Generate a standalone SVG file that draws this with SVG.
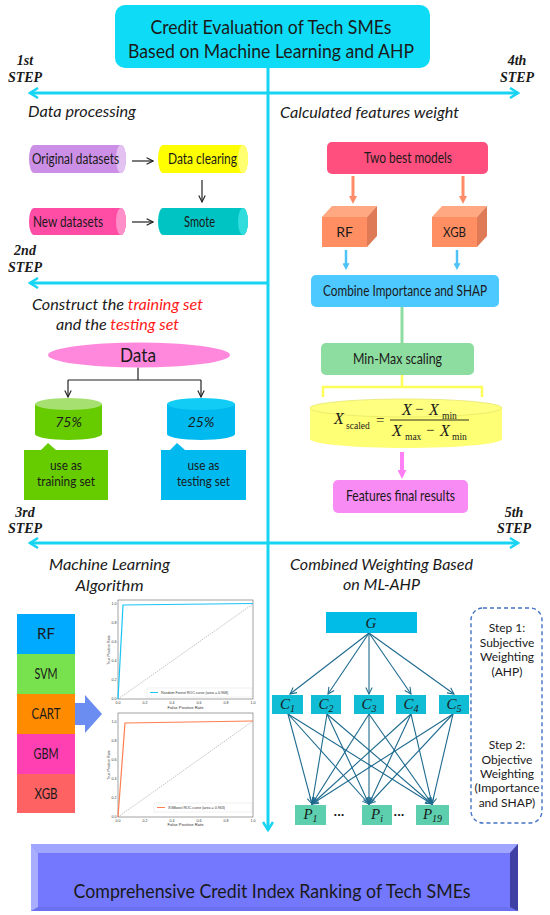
<svg xmlns="http://www.w3.org/2000/svg" width="550" height="915" viewBox="0 0 550 915">
<defs>
<style>
.t{font-family:Lato,"Open Sans","Liberation Sans",sans-serif;fill:#1a1a1a}
.it{font-style:italic}
.step{font-family:"Liberation Serif",serif;font-weight:bold;font-style:italic;font-size:14px;fill:#1a1a1a;text-anchor:middle}
.m{font-family:"Liberation Serif",serif;font-style:italic;fill:#1a1a1a}
.mu{font-family:"Liberation Serif",serif;fill:#1a1a1a}
.c{text-anchor:middle}
.cyan{stroke:#17D4F2;stroke-width:3;fill:none}
.blk{stroke:#222;stroke-width:1.2;fill:none}
.net{stroke:#1D6A8E;stroke-width:1.1;fill:none}
.roc{font-family:"Liberation Sans",sans-serif;font-size:3.6px;fill:#333}
</style>
<marker id="mc" viewBox="0 0 12 12" refX="10" refY="6" markerWidth="12" markerHeight="12" markerUnits="userSpaceOnUse" orient="auto-start-reverse"><path d="M2,1 L10,6 L2,11" fill="none" stroke="#17D4F2" stroke-width="2.5"/></marker>
<marker id="mb" viewBox="0 0 10 10" refX="9" refY="5" markerWidth="8" markerHeight="8" markerUnits="userSpaceOnUse" orient="auto"><path d="M1,1 L9,5 L1,9" fill="none" stroke="#222" stroke-width="1.4"/></marker>
<marker id="mo" viewBox="0 0 8 8" refX="1" refY="4" markerWidth="8" markerHeight="8" markerUnits="userSpaceOnUse" orient="auto"><path d="M0,0 L8,4 L0,8 Z" fill="#FF8C69"/></marker>
<marker id="ml" viewBox="0 0 8 8" refX="1" refY="4" markerWidth="7" markerHeight="7" markerUnits="userSpaceOnUse" orient="auto"><path d="M0,0 L8,4 L0,8 Z" fill="#4FC3F7"/></marker>
<marker id="mp" viewBox="0 0 8 8" refX="1" refY="4" markerWidth="9" markerHeight="9" markerUnits="userSpaceOnUse" orient="auto"><path d="M0,0 L8,4 L0,8 Z" fill="#FF80F5"/></marker>
<marker id="mn" viewBox="0 0 10 10" refX="9" refY="5" markerWidth="8" markerHeight="8" markerUnits="userSpaceOnUse" orient="auto"><path d="M1,1 L9,5 L1,9" fill="none" stroke="#1D6A8E" stroke-width="1.3"/></marker>
</defs>
<rect width="550" height="915" fill="#fff"/>

<g id="connectors">
<line class="cyan" x1="268" y1="68" x2="268" y2="830" marker-end="url(#mc)"/>
<line class="cyan" x1="30" y1="93" x2="518" y2="93" marker-start="url(#mc)" marker-end="url(#mc)"/>
<line class="cyan" x1="268" y1="283" x2="30" y2="283" marker-end="url(#mc)"/>
<line class="cyan" x1="30" y1="543" x2="518" y2="543" marker-start="url(#mc)" marker-end="url(#mc)"/>
<line class="blk" x1="132" y1="161" x2="153" y2="161" marker-end="url(#mb)"/>
<line class="blk" x1="132" y1="222" x2="153" y2="222" marker-end="url(#mb)"/>
<line class="blk" x1="202" y1="180" x2="202" y2="202" marker-end="url(#mb)"/>
<path class="blk" d="M138,367.5 V380 M68,380 H201"/>
<line class="blk" x1="68" y1="380" x2="68" y2="397" marker-end="url(#mb)"/>
<line class="blk" x1="201" y1="380" x2="201" y2="397" marker-end="url(#mb)"/>
<line x1="353" y1="176" x2="353" y2="197" stroke="#FF8C69" stroke-width="3" marker-end="url(#mo)"/>
<line x1="463" y1="176" x2="463" y2="197" stroke="#FF8C69" stroke-width="3" marker-end="url(#mo)"/>
<line x1="346" y1="250" x2="346" y2="264" stroke="#4FC3F7" stroke-width="2.5" marker-end="url(#ml)"/>
<line x1="457" y1="250" x2="457" y2="264" stroke="#4FC3F7" stroke-width="2.5" marker-end="url(#ml)"/>
<line x1="402" y1="307" x2="402" y2="343" stroke="#8EDDA0" stroke-width="3"/>
<path d="M402,375 V387 M323,397 V387 H482 V397" stroke="#FFFF5A" stroke-width="2.5" fill="none"/>
<line x1="402" y1="452" x2="402" y2="471" stroke="#FF80F5" stroke-width="4" marker-end="url(#mp)"/>
<g class="net">
<line x1="369" y1="633" x2="290" y2="694" marker-end="url(#mn)"/>
<line x1="369" y1="633" x2="328" y2="694" marker-end="url(#mn)"/>
<line x1="369" y1="633" x2="369" y2="694" marker-end="url(#mn)"/>
<line x1="369" y1="633" x2="411" y2="694" marker-end="url(#mn)"/>
<line x1="369" y1="633" x2="454" y2="694" marker-end="url(#mn)"/>
<line x1="288" y1="714" x2="312" y2="804" marker-end="url(#mn)"/>
<line x1="288" y1="714" x2="369" y2="804" marker-end="url(#mn)"/>
<line x1="288" y1="714" x2="432" y2="804" marker-end="url(#mn)"/>
<line x1="327" y1="714" x2="312" y2="804" marker-end="url(#mn)"/>
<line x1="327" y1="714" x2="369" y2="804" marker-end="url(#mn)"/>
<line x1="327" y1="714" x2="432" y2="804" marker-end="url(#mn)"/>
<line x1="369" y1="714" x2="312" y2="804" marker-end="url(#mn)"/>
<line x1="369" y1="714" x2="369" y2="804" marker-end="url(#mn)"/>
<line x1="369" y1="714" x2="432" y2="804" marker-end="url(#mn)"/>
<line x1="411" y1="714" x2="312" y2="804" marker-end="url(#mn)"/>
<line x1="411" y1="714" x2="369" y2="804" marker-end="url(#mn)"/>
<line x1="411" y1="714" x2="432" y2="804" marker-end="url(#mn)"/>
<line x1="453" y1="714" x2="312" y2="804" marker-end="url(#mn)"/>
<line x1="453" y1="714" x2="369" y2="804" marker-end="url(#mn)"/>
<line x1="453" y1="714" x2="432" y2="804" marker-end="url(#mn)"/>
</g>
</g>

<g id="title">
<rect x="115" y="5" width="315" height="63" rx="10" fill="#0EDCF6"/>
<text class="t c" x="271" y="34" font-size="19" textLength="241" lengthAdjust="spacingAndGlyphs">Credit Evaluation of Tech SMEs</text>
<text class="t c" x="271" y="58" font-size="19" textLength="286" lengthAdjust="spacingAndGlyphs">Based on Machine Learning and AHP</text>
</g>

<g id="steps">
<text class="step" x="25" y="65">1st</text><text class="step" x="25" y="82">STEP</text>
<text class="step" x="517" y="65">4th</text><text class="step" x="517" y="82">STEP</text>
<text class="step" x="25" y="255">2nd</text><text class="step" x="25" y="272">STEP</text>
<text class="step" x="25" y="517">3rd</text><text class="step" x="25" y="533">STEP</text>
<text class="step" x="514" y="517">5th</text><text class="step" x="514" y="533">STEP</text>
</g>

<g id="data-processing">
<text class="t it" x="28" y="117" font-size="16" textLength="108" lengthAdjust="spacingAndGlyphs">Data processing</text>
</g>
<g id="original-datasets">
<path d="M34,145 H121 A5,14 0 0 1 121,173 H34 A5,14 0 0 1 34,145 Z" fill="#CC8FE6"/>
<ellipse cx="121" cy="159" rx="5" ry="14" fill="#E3C2F2"/>
<text class="t" x="32" y="164" font-size="14.5" textLength="87" lengthAdjust="spacingAndGlyphs">Original datasets</text>
</g>
<g id="data-clearing">
<path d="M163,145 H243 A5,14 0 0 1 243,173 H163 A5,14 0 0 1 163,145 Z" fill="#FFFF00"/>
<ellipse cx="243" cy="159" rx="5" ry="14" fill="#FFFF70"/>
<text class="t" x="168" y="164" font-size="14.5" textLength="69" lengthAdjust="spacingAndGlyphs">Data clearing</text>
</g>
<g id="new-datasets">
<path d="M34,208 H121 A5,13.5 0 0 1 121,235 H34 A5,13.5 0 0 1 34,208 Z" fill="#FF4DA6"/>
<ellipse cx="121" cy="221.5" rx="5" ry="13.5" fill="#FF8FC8"/>
<text class="t" x="33" y="226.5" font-size="14.5" textLength="70" lengthAdjust="spacingAndGlyphs">New datasets</text>
</g>
<g id="smote">
<path d="M163,208 H243 A5,13.5 0 0 1 243,235 H163 A5,13.5 0 0 1 163,208 Z" fill="#00C4C4"/>
<ellipse cx="243" cy="221.5" rx="5" ry="13.5" fill="#30DCDC"/>
<text class="t" x="184" y="226.5" font-size="14.5" textLength="31" lengthAdjust="spacingAndGlyphs">Smote</text>
</g>

<g id="construct-title">
<text class="t it" x="32" y="310" font-size="16" textLength="171" lengthAdjust="spacingAndGlyphs">Construct the <tspan fill="#FF1A1A">training set</tspan></text>
<text class="t it" x="56" y="330" font-size="16" textLength="123" lengthAdjust="spacingAndGlyphs">and the <tspan fill="#FF1A1A">testing set</tspan></text>
</g>
<g id="data">
<ellipse cx="139" cy="355" rx="91" ry="12.5" fill="#FF88DD"/>
<text class="t c" x="138" y="362" font-size="20" textLength="36" lengthAdjust="spacingAndGlyphs">Data</text>
</g>
<g id="p75">
<path d="M35,404 V434 A33.5,6 0 0 0 102,434 V404 Z" fill="#66CC00"/>
<ellipse cx="68.5" cy="404" rx="33.5" ry="6" fill="#A6E070"/>
<text class="t it c" x="68.5" y="427" font-size="14">75%</text>
</g>
<g id="p25">
<path d="M167,404 V434 A34,6 0 0 0 235,434 V404 Z" fill="#00B9EE"/>
<ellipse cx="201" cy="404" rx="34" ry="6" fill="#11CCF5"/>
<text class="t it c" x="201" y="427" font-size="14">25%</text>
</g>
<g id="training-set">
<path d="M24,450 H41 L48,443 L56,450 H108 V500 H24 Z" fill="#66CC00"/>
<text class="t c" x="66" y="470" font-size="13.5" textLength="32" lengthAdjust="spacingAndGlyphs">use as</text>
<text class="t c" x="66" y="486" font-size="13.5" textLength="58" lengthAdjust="spacingAndGlyphs">training set</text>
</g>
<g id="testing-set">
<path d="M161,450 H170 L177,443 L185,450 H246 V500 H161 Z" fill="#00B9EE"/>
<text class="t c" x="203.5" y="470" font-size="13.5" textLength="32" lengthAdjust="spacingAndGlyphs">use as</text>
<text class="t c" x="203.5" y="486" font-size="13.5" textLength="53" lengthAdjust="spacingAndGlyphs">testing set</text>
</g>

<g id="features-title">
<text class="t it" x="280" y="118" font-size="16" textLength="179" lengthAdjust="spacingAndGlyphs">Calculated features weight</text>
</g>
<g id="two-best-models">
<rect x="327" y="142" width="161" height="32" rx="5" fill="#FF4F7E"/>
<text class="t c" x="408" y="163" font-size="15" textLength="88" lengthAdjust="spacingAndGlyphs">Two best models</text>
</g>
<g id="rf-cube">
<rect x="322" y="217" width="45" height="30" fill="#FF8F62"/>
<path d="M322,217 L332,206 H377 L367,217 Z" fill="#FFA882"/>
<path d="M367,217 L377,206 V236 L367,247 Z" fill="#DE7A56"/>
<text class="t c" x="344.5" y="237" font-size="14">RF</text>
</g>
<g id="xgb-cube">
<rect x="432" y="217" width="45" height="30" fill="#FF8F62"/>
<path d="M432,217 L442,206 H487 L477,217 Z" fill="#FFA882"/>
<path d="M477,217 L487,206 V236 L477,247 Z" fill="#DE7A56"/>
<text class="t c" x="454.5" y="237" font-size="14" textLength="23" lengthAdjust="spacingAndGlyphs">XGB</text>
</g>
<g id="combine">
<rect x="311" y="275" width="188" height="32" rx="5" fill="#4DC9FF"/>
<text class="t c" x="405" y="296" font-size="14.5" textLength="164" lengthAdjust="spacingAndGlyphs">Combine Importance and SHAP</text>
</g>
<g id="minmax">
<rect x="321" y="343" width="153" height="32" rx="5" fill="#8EDDA0"/>
<text class="t c" x="397.5" y="364" font-size="15" textLength="89" lengthAdjust="spacingAndGlyphs">Min-Max scaling</text>
</g>
<g id="formula">
<path d="M310,408 V439 A96,9 0 0 0 502,439 V408 Z" fill="#FFFF75"/>
<ellipse cx="406" cy="408" rx="96" ry="9" fill="#FFFF80" stroke="#E6E66A" stroke-width="0.8"/>
<text class="m" x="334" y="424" font-size="16">X</text>
<text class="mu" x="346" y="429" font-size="9.5">scaled</text>
<text class="mu" x="376" y="425" font-size="15">=</text>
<line x1="390" y1="420" x2="469" y2="420" stroke="#1a1a1a" stroke-width="0.9"/>
<text class="m" x="402" y="415" font-size="16">X</text>
<text class="mu" x="415" y="414" font-size="15">−</text>
<text class="m" x="429" y="415" font-size="16">X</text>
<text class="mu" x="442" y="419" font-size="9.5">min</text>
<text class="m" x="392" y="436" font-size="16">X</text>
<text class="mu" x="405" y="440" font-size="9.5">max</text>
<text class="mu" x="426" y="435" font-size="15">−</text>
<text class="m" x="440" y="436" font-size="16">X</text>
<text class="mu" x="452" y="440" font-size="9.5">min</text>
</g>
<g id="features-final">
<rect x="333" y="480" width="135" height="33" rx="5" fill="#F98BF5"/>
<text class="t c" x="400.5" y="501" font-size="15" textLength="109" lengthAdjust="spacingAndGlyphs">Features final results</text>
</g>

<g id="ml-title">
<text class="t it c" x="109.5" y="570" font-size="16" textLength="121" lengthAdjust="spacingAndGlyphs">Machine Learning</text>
<text class="t it c" x="109.5" y="591" font-size="16" textLength="68" lengthAdjust="spacingAndGlyphs">Algorithm</text>
</g>
<g id="ml-stack">
<rect x="17" y="614" width="58" height="40" fill="#00AAFF"/>
<rect x="17" y="654" width="58" height="40" fill="#78E24E"/>
<rect x="17" y="694" width="58" height="40" fill="#FF8C00"/>
<rect x="17" y="734" width="58" height="40" fill="#FF40B3"/>
<rect x="17" y="774" width="58" height="39" fill="#FF6262"/>
<text class="t c" x="46" y="639" font-size="15">RF</text>
<text class="t c" x="46" y="679" font-size="15" textLength="23" lengthAdjust="spacingAndGlyphs">SVM</text>
<text class="t c" x="46" y="719" font-size="15" textLength="29" lengthAdjust="spacingAndGlyphs">CART</text>
<text class="t c" x="46" y="759" font-size="15" textLength="25" lengthAdjust="spacingAndGlyphs">GBM</text>
<text class="t c" x="46" y="799" font-size="15" textLength="23" lengthAdjust="spacingAndGlyphs">XGB</text>
<path d="M75,703 H85 V695 L102,714 L85,733 V725 H75 Z" fill="#6B8CF0"/>
</g>

<g id="roc-curves">
<rect x="118" y="600" width="135" height="99" fill="#fff" stroke="#444" stroke-width="0.5"/>
<line x1="118" y1="699" x2="253" y2="604" stroke="#666" stroke-width="0.4" stroke-dasharray="1.5,1"/>
<polyline points="118,699 123,605 253,603.5" fill="none" stroke="#17C5F5" stroke-width="1.2"/>
<rect x="147" y="688" width="105" height="9" fill="#fff" stroke="#ccc" stroke-width="0.3"/>
<line x1="150" y1="692.5" x2="158" y2="692.5" stroke="#17C5F5" stroke-width="1"/>
<text class="roc" x="161" y="693.8">Random Forest ROC curve (area = 0.968)</text>
<g class="roc" text-anchor="middle">
<text x="118" y="703.5">0.0</text><text x="145" y="703.5">0.2</text><text x="172" y="703.5">0.4</text><text x="199" y="703.5">0.6</text><text x="226" y="703.5">0.8</text><text x="253" y="703.5">1.0</text>
<text x="185.5" y="708.5" font-size="4.2px">False Positive Rate</text>
</g>
<g class="roc" text-anchor="end">
<text x="116.5" y="700">0.0</text><text x="116.5" y="681">0.2</text><text x="116.5" y="662">0.4</text><text x="116.5" y="643">0.6</text><text x="116.5" y="624">0.8</text><text x="116.5" y="605">1.0</text>
</g>
<text class="roc" x="0" y="0" font-size="4.2px" text-anchor="middle" transform="translate(109.5,650) rotate(-90)">True Positive Rate</text>

<rect x="118" y="713" width="135" height="104" fill="#fff" stroke="#444" stroke-width="0.5"/>
<line x1="118" y1="817" x2="253" y2="721" stroke="#666" stroke-width="0.4" stroke-dasharray="1.5,1"/>
<polyline points="118,817 125,723 253,721" fill="none" stroke="#FF7F50" stroke-width="1.2"/>
<rect x="154" y="803" width="98" height="9" fill="#fff" stroke="#ccc" stroke-width="0.3"/>
<line x1="157" y1="807.5" x2="165" y2="807.5" stroke="#FF7F50" stroke-width="1"/>
<text class="roc" x="168" y="808.8">XGBoost ROC curve (area = 0.963)</text>
<g class="roc" text-anchor="middle">
<text x="118" y="821.5">0.0</text><text x="145" y="821.5">0.2</text><text x="172" y="821.5">0.4</text><text x="199" y="821.5">0.6</text><text x="226" y="821.5">0.8</text><text x="253" y="821.5">1.0</text>
<text x="185.5" y="826" font-size="4.2px">False Positive Rate</text>
</g>
<g class="roc" text-anchor="end">
<text x="116.5" y="818">0.0</text><text x="116.5" y="799">0.2</text><text x="116.5" y="780">0.4</text><text x="116.5" y="761">0.6</text><text x="116.5" y="742">0.8</text><text x="116.5" y="723">1.0</text>
</g>
<text class="roc" x="0" y="0" font-size="4.2px" text-anchor="middle" transform="translate(109.5,765) rotate(-90)">True Positive Rate</text>
</g>

<g id="ahp-title">
<text class="t it c" x="381.5" y="570" font-size="16" textLength="183" lengthAdjust="spacingAndGlyphs">Combined Weighting Based</text>
<text class="t it c" x="381.5" y="590" font-size="16" textLength="77" lengthAdjust="spacingAndGlyphs">on ML-AHP</text>
</g>
<g id="G">
<rect x="326" y="612" width="91" height="21" fill="#00BCE6"/>
<text class="m c" x="371" y="628" font-size="15">G</text>
</g>
<g id="C1"><rect x="272" y="695" width="31" height="19" fill="#10BDD4"/><text class="m c" x="287.5" y="709" font-size="15">C<tspan font-size="10" dy="3">1</tspan></text></g>
<g id="C2"><rect x="311" y="695" width="30" height="19" fill="#10BDD4"/><text class="m c" x="326" y="709" font-size="15">C<tspan font-size="10" dy="3">2</tspan></text></g>
<g id="C3"><rect x="354" y="695" width="30" height="19" fill="#10BDD4"/><text class="m c" x="369" y="709" font-size="15">C<tspan font-size="10" dy="3">3</tspan></text></g>
<g id="C4"><rect x="396" y="695" width="30" height="19" fill="#10BDD4"/><text class="m c" x="411" y="709" font-size="15">C<tspan font-size="10" dy="3">4</tspan></text></g>
<g id="C5"><rect x="439" y="695" width="30" height="19" fill="#10BDD4"/><text class="m c" x="454" y="709" font-size="15">C<tspan font-size="10" dy="3">5</tspan></text></g>
<g id="P1"><rect x="295" y="805" width="31" height="20" fill="#5DCFAE"/><text class="m c" x="310.5" y="819" font-size="15">P<tspan font-size="10" dy="3">1</tspan></text></g>
<g id="Pi"><rect x="362" y="805" width="30" height="20" fill="#5DCFAE"/><text class="m c" x="377" y="819" font-size="15">P<tspan font-size="10" dy="3">i</tspan></text></g>
<g id="P19"><rect x="416" y="805" width="33" height="20" fill="#5DCFAE"/><text class="m c" x="432.5" y="819" font-size="15">P<tspan font-size="10" dy="3">19</tspan></text></g>
<g id="dots">
<text class="t c" x="339" y="819" font-size="14">···</text>
<text class="t c" x="399" y="819" font-size="14">···</text>
</g>
<g id="steps-box">
<rect x="471" y="608" width="71" height="215" rx="12" fill="none" stroke="#4472C4" stroke-width="1.4" stroke-dasharray="4,3"/>
<g class="t c" font-size="12">
<text x="507" y="632">Step 1:</text>
<text x="507" y="647">Subjective</text>
<text x="507" y="661">Weighting</text>
<text x="507" y="676">(AHP)</text>
<text x="507" y="749">Step 2:</text>
<text x="507" y="764">Objective</text>
<text x="507" y="778">Weighting</text>
<text x="507" y="792" textLength="65" lengthAdjust="spacingAndGlyphs">(Importance</text>
<text x="507" y="807">and SHAP)</text>
</g>
</g>

<g id="ranking">
<rect x="31" y="844" width="487" height="67" fill="#6B70F0"/>
<path d="M31,844 H518 L510,853 H38 Z" fill="#A0A5FF"/>
<path d="M31,844 L38,853 V907 L31,911 Z" fill="#A9ADFF"/>
<path d="M518,844 L510,853 V907 L518,911 Z" fill="#3E41A3"/>
<rect x="38" y="853" width="472" height="54" fill="#7378FF"/>
<text class="t c" x="272" y="898" font-size="20" fill="#111133" textLength="397" lengthAdjust="spacingAndGlyphs">Comprehensive Credit Index Ranking of Tech SMEs</text>
</g>
</svg>
